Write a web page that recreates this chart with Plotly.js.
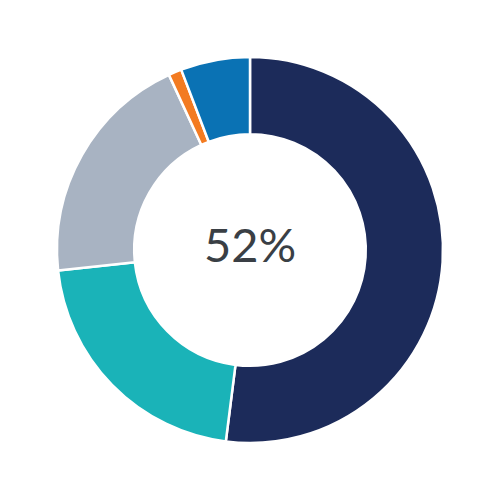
<!DOCTYPE html>
<html>
<head>
<meta charset="utf-8">
<script src="https://cdn.plot.ly/plotly-3.0.1.min.js"></script>
<style>html,body{margin:0;padding:0;background:#fff;}#chart{width:500px;height:500px;}</style>
</head>
<body>
<div id="chart"></div>
<script>
const labels = ["A", "B", "C", "D", "E"];
const values = [52, 21.3, 19.8, 1.1, 5.8];
const colors = ["#1c2b5a", "#1ab3b8", "#a8b3c2", "#f37b21", "#0a72b4"];
const centerText = "52%";

Plotly.newPlot("chart", [{
  type: "pie",
  labels: labels,
  values: values,
  hole: 0.6,
  sort: false,
  direction: "clockwise",
  rotation: 0,
  textinfo: "none",
  hoverinfo: "none",
  marker: {colors: colors, line: {color: "#ffffff", width: 2.5}},
  domain: {x: [0, 1], y: [0, 1]}
}], {
  width: 500, height: 500,
  margin: {l: 57, r: 57, t: 57, b: 57},
  showlegend: false,
  paper_bgcolor: "#ffffff",
  annotations: [{
    text: centerText, x: 0.5, y: 0.5, xref: "paper", yref: "paper", yshift: 6,
    showarrow: false, font: {family: "Lato, 'Open Sans', sans-serif", size: 47, color: "#3a3f45"}
  }]
}, {staticPlot: true});
</script>
</body>
</html>
